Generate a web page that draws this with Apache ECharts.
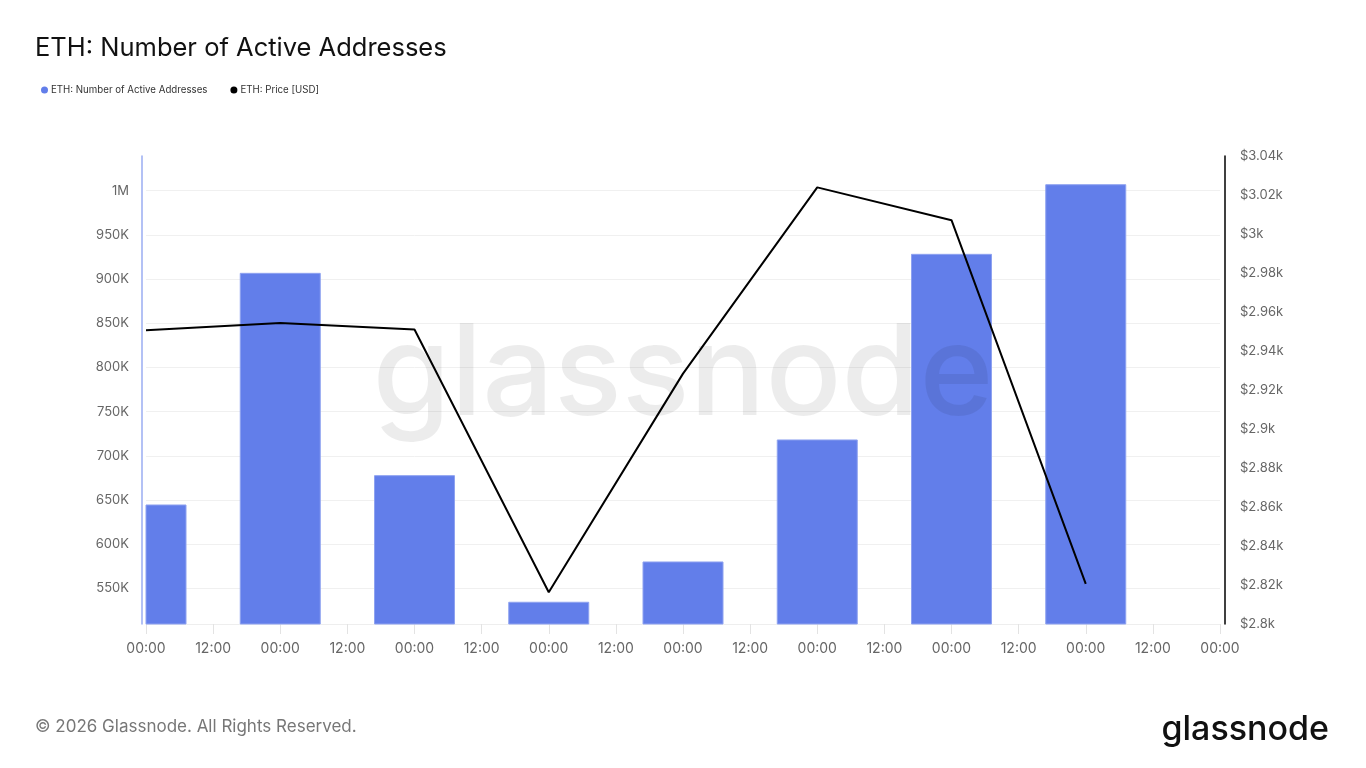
<!DOCTYPE html>
<html>
<head>
<meta charset="utf-8">
<script src="https://cdn.jsdelivr.net/npm/echarts@6/dist/echarts.min.js"></script>
<style>
html,body{margin:0;padding:0;background:#fff;}
#chart{width:1366px;height:768px;}
</style>
</head>
<body>
<div id="chart"></div>
<script>
// Data (daily, 00:00 UTC)
const dates = ['2026-01-01','2026-01-02','2026-01-03','2026-01-04','2026-01-05','2026-01-06','2026-01-07','2026-01-08'];
const activeAddresses = [644300, 906500, 677500, 534200, 579800, 717900, 928000, 1006800];
const priceUsd = [2950.7, 2954.4, 2951.0, 2816.3, 2928.4, 3023.9, 3007.1, 2820.6];
const leftTicks = [550000, 600000, 650000, 700000, 750000, 800000, 850000, 900000, 950000, 1000000];
const xTickLabels = ['00:00', '12:00'];

const t0 = Date.parse(dates[0] + 'T00:00:00Z');
const hours = dates.map(d => (Date.parse(d + 'T00:00:00Z') - t0) / 3600000);
const barData = hours.map((h, i) => [h, activeAddresses[i]]);
const lineData = hours.map((h, i) => [h, priceUsd[i]]);

const LEFT_MIN = 509600, LEFT_MAX = 1039300;
const BAR_W = 80;
const FONT = 'Inter, "Noto Sans", sans-serif';
const BAR_COLOR = '#627EEA';

const chart = echarts.init(document.getElementById('chart'));
chart.setOption({
  backgroundColor: '#ffffff',
  animation: false,
  textStyle: { fontFamily: FONT },
  title: {
    text: 'ETH: Number of Active Addresses',
    left: 30, top: 30,
    textStyle: { fontFamily: FONT, fontSize: 25.5, fontWeight: 400, color: '#111' }
  },
  legend: {
    left: 36, top: 80,
    itemWidth: 7, itemHeight: 7, itemGap: 23,
    icon: 'circle',
    textStyle: { fontFamily: FONT, fontSize: 9.7, color: '#333', padding: [0, 0, 0, -2] },
    data: [
      { name: 'ETH: Number of Active Addresses', itemStyle: { color: BAR_COLOR } },
      { name: 'ETH: Price [USD]', itemStyle: { color: '#000' } }
    ]
  },
  grid: { left: 146, right: 146, top: 156, bottom: 144 },
  xAxis: {
    type: 'value',
    min: 0, max: 192, interval: 12,
    axisLine: { show: true, onZero: false, lineStyle: { color: '#eeeeee', width: 1 } },
    axisTick: { show: true, length: 10, lineStyle: { color: '#e3e3e3' } },
    axisLabel: {
      fontFamily: FONT, fontSize: 14, color: '#666', margin: 18,
      formatter: v => xTickLabels[(v / 12) % 2]
    },
    splitLine: { show: false }
  },
  yAxis: [
    {
      type: 'value',
      min: LEFT_MIN, max: LEFT_MAX,
      offset: 4,
      axisLine: { show: true, onZero: false, lineStyle: { color: '#9aacf2', width: 1.5 } },
      axisTick: { show: false, customValues: leftTicks },
      axisLabel: {
        customValues: leftTicks,
        fontFamily: FONT, fontSize: 13, color: '#666', margin: 13,
        formatter: v => v >= 1000000 ? (v / 1000000) + 'M' : (v / 1000) + 'K'
      },
      splitLine: { show: true, lineStyle: { color: '#f0f0f0', width: 1 } }
    },
    {
      type: 'value',
      min: 2800, max: 3040, interval: 20,
      position: 'right',
      offset: 5,
      axisLine: { show: true, onZero: false, lineStyle: { color: '#000', width: 1.5 } },
      axisTick: { show: false },
      axisLabel: {
        fontFamily: FONT, fontSize: 13, color: '#666', margin: 15,
        formatter: v => '$' + parseFloat((v / 1000).toFixed(2)) + 'k'
      },
      splitLine: { show: false }
    }
  ],
  series: [
    {
      name: 'ETH: Number of Active Addresses',
      type: 'custom',
      yAxisIndex: 0,
      data: barData,
      encode: { x: 0, y: 1 },
      itemStyle: { color: BAR_COLOR },
      renderItem: function (params, api) {
        const x = api.value(0), y = api.value(1);
        const top = api.coord([x, y]);
        const base = api.coord([x, LEFT_MIN]);
        const cs = params.coordSys;
        const shape = echarts.graphic.clipRectByRect(
          { x: top[0] - BAR_W / 2, y: top[1], width: BAR_W, height: base[1] - top[1] },
          { x: cs.x, y: cs.y, width: cs.width, height: cs.height }
        );
        if (!shape) return null;
        return {
          type: 'rect',
          shape: shape,
          style: { fill: BAR_COLOR, stroke: '#8ea2f0', lineWidth: 1 }
        };
      },
      z: 2
    },
    {
      name: 'ETH: Price [USD]',
      type: 'line',
      yAxisIndex: 1,
      data: lineData,
      showSymbol: false,
      symbol: 'none',
      lineStyle: { color: '#000', width: 2 },
      itemStyle: { color: '#000' },
      z: 3
    }
  ],
  graphic: [
    {
      type: 'text',
      left: 'center', top: 314,
      z: 100,
      silent: true,
      style: {
        text: 'glassnode',
        fontFamily: FONT, fontSize: 126, fontWeight: 500,
        fill: 'rgba(0,0,0,0.075)'
      }
    },
    {
      type: 'text',
      left: 35, top: 718,
      style: {
        text: '\u00A9 2026 Glassnode. All Rights Reserved.',
        fontFamily: FONT, fontSize: 17, fill: '#777'
      }
    },
    {
      type: 'text',
      right: 37, top: 713,
      style: {
        text: 'glassnode',
        fontFamily: FONT, fontSize: 34, fontWeight: 500, fill: '#111'
      }
    }
  ]
});
</script>
</body>
</html>
